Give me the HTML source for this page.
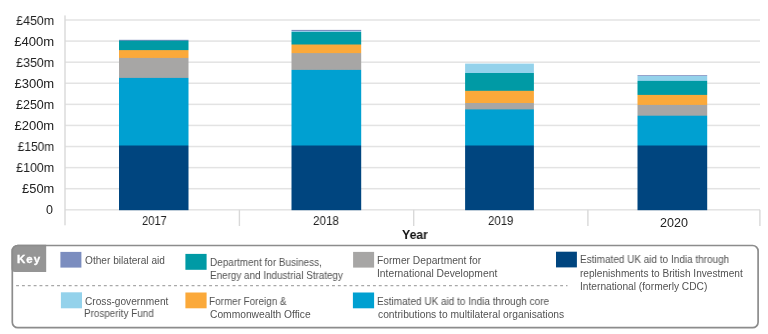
<!DOCTYPE html>
<html><head><meta charset="utf-8"><style>
html,body{margin:0;padding:0;background:#fff;}
body{width:768px;height:334px;position:relative;overflow:hidden;font-family:"Liberation Sans",sans-serif;}
</style></head><body>
<svg width="768" height="334" style="position:absolute;left:0;top:0"><defs><linearGradient id="g0" gradientUnits="userSpaceOnUse" x1="0" y1="39.800" x2="0" y2="210.200"><stop offset="0.00293" stop-color="#7B8DBF"/><stop offset="0.00059" stop-color="#7B8DBF"/><stop offset="0.00646" stop-color="#009AA5"/><stop offset="0.05751" stop-color="#009AA5"/><stop offset="0.06338" stop-color="#FBA93A"/><stop offset="0.10329" stop-color="#FBA93A"/><stop offset="0.10915" stop-color="#A7A6A5"/><stop offset="0.22066" stop-color="#A7A6A5"/><stop offset="0.22653" stop-color="#00A0D1"/><stop offset="0.61737" stop-color="#00A0D1"/><stop offset="0.62324" stop-color="#00457F"/><stop offset="0.99707" stop-color="#00457F"/></linearGradient><linearGradient id="g1" gradientUnits="userSpaceOnUse" x1="0" y1="29.900" x2="0" y2="210.200"><stop offset="0.00277" stop-color="#7B8DBF"/><stop offset="0.00388" stop-color="#7B8DBF"/><stop offset="0.00943" stop-color="#94D2EB"/><stop offset="0.00776" stop-color="#94D2EB"/><stop offset="0.01331" stop-color="#009AA5"/><stop offset="0.07820" stop-color="#009AA5"/><stop offset="0.08375" stop-color="#FBA93A"/><stop offset="0.12590" stop-color="#FBA93A"/><stop offset="0.13145" stop-color="#A7A6A5"/><stop offset="0.21908" stop-color="#A7A6A5"/><stop offset="0.22463" stop-color="#00A0D1"/><stop offset="0.63838" stop-color="#00A0D1"/><stop offset="0.64393" stop-color="#00457F"/><stop offset="0.99723" stop-color="#00457F"/></linearGradient><linearGradient id="g2" gradientUnits="userSpaceOnUse" x1="0" y1="63.600" x2="0" y2="210.200"><stop offset="0.00341" stop-color="#94D2EB"/><stop offset="0.06071" stop-color="#94D2EB"/><stop offset="0.06753" stop-color="#009AA5"/><stop offset="0.18213" stop-color="#009AA5"/><stop offset="0.18895" stop-color="#FBA93A"/><stop offset="0.26535" stop-color="#FBA93A"/><stop offset="0.27217" stop-color="#A7A6A5"/><stop offset="0.30900" stop-color="#A7A6A5"/><stop offset="0.31583" stop-color="#00A0D1"/><stop offset="0.55525" stop-color="#00A0D1"/><stop offset="0.56207" stop-color="#00457F"/><stop offset="0.99659" stop-color="#00457F"/></linearGradient><linearGradient id="g3" gradientUnits="userSpaceOnUse" x1="0" y1="75.200" x2="0" y2="210.200"><stop offset="0.00370" stop-color="#7B8DBF"/><stop offset="0.00000" stop-color="#7B8DBF"/><stop offset="0.00741" stop-color="#94D2EB"/><stop offset="0.03852" stop-color="#94D2EB"/><stop offset="0.04593" stop-color="#009AA5"/><stop offset="0.14222" stop-color="#009AA5"/><stop offset="0.14963" stop-color="#FBA93A"/><stop offset="0.21630" stop-color="#FBA93A"/><stop offset="0.22370" stop-color="#A7A6A5"/><stop offset="0.29630" stop-color="#A7A6A5"/><stop offset="0.30370" stop-color="#00A0D1"/><stop offset="0.51704" stop-color="#00A0D1"/><stop offset="0.52444" stop-color="#00457F"/><stop offset="0.99630" stop-color="#00457F"/></linearGradient></defs><rect x="65" y="209.05" width="695" height="1.5" fill="#E3E3E3"/><rect x="65" y="187.96" width="695" height="1.5" fill="#E3E3E3"/><rect x="65" y="166.87" width="695" height="1.5" fill="#E3E3E3"/><rect x="65" y="145.78" width="695" height="1.5" fill="#E3E3E3"/><rect x="65" y="124.69" width="695" height="1.5" fill="#E3E3E3"/><rect x="65" y="103.61" width="695" height="1.5" fill="#E3E3E3"/><rect x="65" y="82.52" width="695" height="1.5" fill="#E3E3E3"/><rect x="65" y="61.43" width="695" height="1.5" fill="#E3E3E3"/><rect x="65" y="40.34" width="695" height="1.5" fill="#E3E3E3"/><rect x="65" y="19.25" width="695" height="1.5" fill="#E3E3E3"/><rect x="64.3" y="15.4" width="1.4" height="209.90" fill="#D9D9D9"/><rect x="238.70" y="209.80" width="1.4" height="16.20" fill="#D9D9D9"/><rect x="413.00" y="209.80" width="1.4" height="16.20" fill="#D9D9D9"/><rect x="587.20" y="209.80" width="1.4" height="16.20" fill="#D9D9D9"/><rect x="759.20" y="209.80" width="1.4" height="16.20" fill="#D9D9D9"/><rect x="119.00" y="39.80" width="69.50" height="170.40" fill="url(#g0)"/><rect x="291.50" y="29.90" width="69.70" height="180.30" fill="url(#g1)"/><rect x="465.10" y="63.60" width="68.80" height="146.60" fill="url(#g2)"/><rect x="637.50" y="75.20" width="69.70" height="135.00" fill="url(#g3)"/></svg>
<div id="y0" style="position:absolute;right:715.10px;transform-origin:100% 0;top:204.42px;font-size:12.5px;line-height:12.5px;font-weight:400;color:#222222;white-space:nowrap;letter-spacing:0px;will-change:transform;transform:scaleX(1.0000)">0</div>
<div id="y50" style="position:absolute;right:714.10px;transform-origin:100% 0;top:183.33px;font-size:12.5px;line-height:12.5px;font-weight:400;color:#222222;white-space:nowrap;letter-spacing:0px;will-change:transform;transform:scaleX(1.0304)">£50m</div>
<div id="y100" style="position:absolute;right:714.10px;transform-origin:100% 0;top:162.24px;font-size:12.5px;line-height:12.5px;font-weight:400;color:#222222;white-space:nowrap;letter-spacing:0px;will-change:transform;transform:scaleX(0.9949)">£100m</div>
<div id="y150" style="position:absolute;right:714.10px;transform-origin:100% 0;top:141.15px;font-size:12.5px;line-height:12.5px;font-weight:400;color:#222222;white-space:nowrap;letter-spacing:0px;will-change:transform;transform:scaleX(0.9546)">£150m</div>
<div id="y200" style="position:absolute;right:714.10px;transform-origin:100% 0;top:120.06px;font-size:12.5px;line-height:12.5px;font-weight:400;color:#222222;white-space:nowrap;letter-spacing:0px;will-change:transform;transform:scaleX(1.0417)">£200m</div>
<div id="y250" style="position:absolute;right:714.10px;transform-origin:100% 0;top:98.97px;font-size:12.5px;line-height:12.5px;font-weight:400;color:#222222;white-space:nowrap;letter-spacing:0px;will-change:transform;transform:scaleX(1.0007)">£250m</div>
<div id="y300" style="position:absolute;right:714.10px;transform-origin:100% 0;top:77.89px;font-size:12.5px;line-height:12.5px;font-weight:400;color:#222222;white-space:nowrap;letter-spacing:0px;will-change:transform;transform:scaleX(1.0417)">£300m</div>
<div id="y350" style="position:absolute;right:714.10px;transform-origin:100% 0;top:56.80px;font-size:12.5px;line-height:12.5px;font-weight:400;color:#222222;white-space:nowrap;letter-spacing:0px;will-change:transform;transform:scaleX(0.9949)">£350m</div>
<div id="y400" style="position:absolute;right:714.10px;transform-origin:100% 0;top:35.71px;font-size:12.5px;line-height:12.5px;font-weight:400;color:#222222;white-space:nowrap;letter-spacing:0px;will-change:transform;transform:scaleX(1.0469)">£400m</div>
<div id="y450" style="position:absolute;right:714.10px;transform-origin:100% 0;top:14.62px;font-size:12.5px;line-height:12.5px;font-weight:400;color:#222222;white-space:nowrap;letter-spacing:0px;will-change:transform;transform:scaleX(0.9949)">£450m</div>
<div id="x2017" style="position:absolute;left:141.60px;transform-origin:0 0;top:214.92px;font-size:12.5px;line-height:12.5px;font-weight:400;color:#222222;white-space:nowrap;letter-spacing:0px;will-change:transform;transform:scaleX(0.8930)">2017</div>
<div id="x2018" style="position:absolute;left:313.20px;transform-origin:0 0;top:214.92px;font-size:12.5px;line-height:12.5px;font-weight:400;color:#222222;white-space:nowrap;letter-spacing:0px;will-change:transform;transform:scaleX(0.9337)">2018</div>
<div id="x2019" style="position:absolute;left:487.50px;transform-origin:0 0;top:214.92px;font-size:12.5px;line-height:12.5px;font-weight:400;color:#222222;white-space:nowrap;letter-spacing:0px;will-change:transform;transform:scaleX(0.9119)">2019</div>
<div id="x2020" style="position:absolute;left:659.50px;transform-origin:0 0;top:217.02px;font-size:12.5px;line-height:12.5px;font-weight:400;color:#222222;white-space:nowrap;letter-spacing:0px;will-change:transform;transform:scaleX(1.0040)">2020</div>
<div id="year" style="position:absolute;left:401.70px;transform-origin:0 0;top:228.92px;font-size:12.5px;line-height:12.5px;font-weight:700;color:#111;white-space:nowrap;letter-spacing:0px;will-change:transform;transform:scaleX(0.9811)">Year</div>
<svg width="768" height="334" style="position:absolute;left:0;top:0"><path d="M11.45,251.00 A6.35,6.35 0 0 1 17.80,244.65 L46.20,244.65 L46.20,272.00 L14.95,272.00 A3.5,3.5 0 0 1 11.45,268.50 Z" fill="#959595"/><rect x="12.3" y="245.5" width="745.80" height="82.20" rx="5.5" ry="5.5" fill="none" stroke="#8C8C8C" stroke-width="1.7"/></svg>
<div id="key" style="position:absolute;left:16.80px;transform-origin:0 0;top:254.29px;font-size:11px;line-height:11px;font-weight:700;color:#fff;-webkit-text-stroke:0.35px #fff;white-space:nowrap;letter-spacing:1.0px;will-change:transform;transform:scaleX(1.0400)">Key</div>
<svg width="768" height="334" style="position:absolute;left:0;top:0"><line x1="16.1" y1="285.6" x2="567.5" y2="285.6" stroke="#A8A8A8" stroke-width="1.1" stroke-dasharray="2.9 2.95"/></svg>
<svg width="768" height="334" style="position:absolute;left:0;top:0"><rect x="60.4" y="251.9" width="21.00" height="15.70" fill="#7B8DBF"/><rect x="185.4" y="253.9" width="21.20" height="15.90" fill="#009AA5"/><rect x="353.1" y="251.9" width="21.00" height="15.70" fill="#A7A6A5"/><rect x="556" y="251.7" width="20.90" height="15.70" fill="#00457F"/><rect x="60.9" y="292.3" width="21.10" height="16.00" fill="#94D2EB"/><rect x="185.4" y="292.5" width="21.20" height="15.80" fill="#FBA93A"/><rect x="352.9" y="292.5" width="21.20" height="15.80" fill="#00A0D1"/></svg>
<div id="l1_0" style="position:absolute;left:85.00px;transform-origin:0 0;top:255.50px;font-size:10.1px;line-height:10.1px;font-weight:400;color:#525252;white-space:nowrap;letter-spacing:0px;will-change:transform;transform:scaleX(1.0032)">Other bilateral aid</div>
<div id="l2_0" style="position:absolute;left:209.80px;transform-origin:0 0;top:258.00px;font-size:10.1px;line-height:10.1px;font-weight:400;color:#525252;white-space:nowrap;letter-spacing:0px;will-change:transform;transform:scaleX(0.9826)">Department for Business,</div>
<div id="l2_1" style="position:absolute;left:209.80px;transform-origin:0 0;top:270.90px;font-size:10.1px;line-height:10.1px;font-weight:400;color:#525252;white-space:nowrap;letter-spacing:0px;will-change:transform;transform:scaleX(0.9791)">Energy and Industrial Strategy</div>
<div id="l3_0" style="position:absolute;left:376.60px;transform-origin:0 0;top:255.50px;font-size:10.1px;line-height:10.1px;font-weight:400;color:#525252;white-space:nowrap;letter-spacing:0px;will-change:transform;transform:scaleX(1.0153)">Former Department for</div>
<div id="l3_1" style="position:absolute;left:376.60px;transform-origin:0 0;top:268.90px;font-size:10.1px;line-height:10.1px;font-weight:400;color:#525252;white-space:nowrap;letter-spacing:0px;will-change:transform;transform:scaleX(1.0205)">International Development</div>
<div id="l4_0" style="position:absolute;left:579.80px;transform-origin:0 0;top:255.40px;font-size:10.1px;line-height:10.1px;font-weight:400;color:#525252;white-space:nowrap;letter-spacing:0px;will-change:transform;transform:scaleX(0.9886)">Estimated UK aid to India through</div>
<div id="l4_1" style="position:absolute;left:579.80px;transform-origin:0 0;top:268.80px;font-size:10.1px;line-height:10.1px;font-weight:400;color:#525252;white-space:nowrap;letter-spacing:0px;will-change:transform;transform:scaleX(0.9998)">replenishments to British Investment</div>
<div id="l4_2" style="position:absolute;left:579.80px;transform-origin:0 0;top:282.10px;font-size:10.1px;line-height:10.1px;font-weight:400;color:#525252;white-space:nowrap;letter-spacing:0px;will-change:transform;transform:scaleX(1.0088)">International (formerly CDC)</div>
<div id="l5_0" style="position:absolute;left:85.00px;transform-origin:0 0;top:296.60px;font-size:10.1px;line-height:10.1px;font-weight:400;color:#525252;white-space:nowrap;letter-spacing:0px;will-change:transform;transform:scaleX(1.0042)">Cross-government</div>
<div id="l5_1" style="position:absolute;left:84.00px;transform-origin:0 0;top:309.40px;font-size:10.1px;line-height:10.1px;font-weight:400;color:#525252;white-space:nowrap;letter-spacing:0px;will-change:transform;transform:scaleX(0.9776)">Prosperity Fund</div>
<div id="l6_0" style="position:absolute;left:209.00px;transform-origin:0 0;top:296.50px;font-size:10.1px;line-height:10.1px;font-weight:400;color:#525252;white-space:nowrap;letter-spacing:0px;will-change:transform;transform:scaleX(0.9809)">Former Foreign &amp;</div>
<div id="l6_1" style="position:absolute;left:210.00px;transform-origin:0 0;top:309.50px;font-size:10.1px;line-height:10.1px;font-weight:400;color:#525252;white-space:nowrap;letter-spacing:0px;will-change:transform;transform:scaleX(1.0158)">Commonwealth Office</div>
<div id="l7_0" style="position:absolute;left:376.60px;transform-origin:0 0;top:296.50px;font-size:10.1px;line-height:10.1px;font-weight:400;color:#525252;white-space:nowrap;letter-spacing:0px;will-change:transform;transform:scaleX(0.9922)">Estimated UK aid to India through core</div>
<div id="l7_1" style="position:absolute;left:377.60px;transform-origin:0 0;top:309.50px;font-size:10.1px;line-height:10.1px;font-weight:400;color:#525252;white-space:nowrap;letter-spacing:0px;will-change:transform;transform:scaleX(1.0180)">contributions to multilateral organisations</div>
</body></html>
